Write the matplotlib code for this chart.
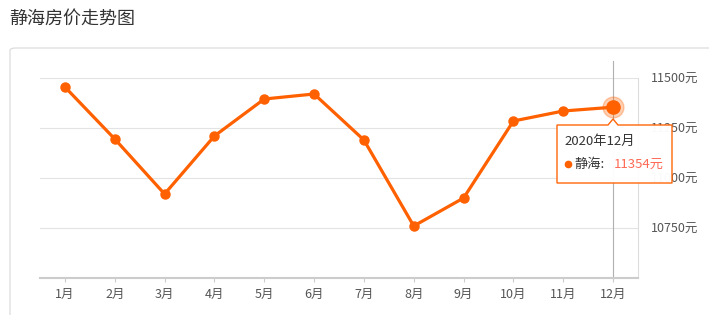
import matplotlib
matplotlib.use("Agg")
import matplotlib.pyplot as plt
from matplotlib.patches import FancyBboxPatch, Polygon
from matplotlib.lines import Line2D

plt.rcParams['font.family'] = ['Noto Sans CJK SC', 'DejaVu Sans']

# data
months = ['1月', '2月', '3月', '4月', '5月', '6月', '7月', '8月', '9月', '10月', '11月', '12月']
prices = [11455, 11195, 10920, 11210, 11395, 11420, 11190, 10760, 10900, 11285, 11335, 11354]
yticks = [10750, 11000, 11250, 11500]
title = '静海房价走势图'
area = '静海'
tip_month = '2020年12月'

orange = '#ff6000'
W, H = 709, 315


def fx(px):
    return px / W


def fy(py):
    return 1 - py / H


fig = plt.figure(figsize=(W / 100, H / 100), dpi=100)

# title and panel frame
fig.text(fx(9), fy(19), title, fontsize=13, color='#333333', va='center', ha='left')
panel = FancyBboxPatch((fx(10), fy(330)), fx(720) - fx(10), fy(48) - fy(330),
                       boxstyle='round,pad=0,rounding_size=0.008',
                       transform=fig.transFigure, fc='white', ec='#dcdcdc', lw=0.9, zorder=-10)
fig.patches.append(panel)

ax = fig.add_axes([fx(40), fy(278), fx(638) - fx(40), fy(78) - fy(278)])
x = list(range(1, len(months) + 1))

for y in yticks:
    ax.axhline(y, color='#e3e3e3', lw=0.8, zorder=1)

ax.plot(x, prices, color=orange, lw=2.3, marker='o', ms=6.5, zorder=3)

# highlighted last point + axis pointer
ax.plot([x[-1], x[-1]], [10500, 11585], color='#b0b0b0', lw=0.8, clip_on=False, zorder=2)
ax.plot(x[-1], prices[-1], 'o', color=orange, ms=15, alpha=0.3, zorder=4, clip_on=False)
ax.plot(x[-1], prices[-1], 'o', color=orange, ms=9.5, zorder=5, clip_on=False)

ax.set_xlim(0.5, len(months) + 0.5)
ax.set_ylim(10500, 11500)
ax.set_xticks(x)
ax.set_xticklabels(months)
ax.set_yticks(yticks)
ax.set_yticklabels([f'{v}元' for v in yticks])
ax.yaxis.tick_right()
ax.tick_params(axis='y', length=0, pad=9, labelsize=9, labelcolor='#555555')
ax.tick_params(axis='x', length=3, color='#cccccc', pad=4, labelsize=9, labelcolor='#555555')

for s in ['left', 'top']:
    ax.spines[s].set_visible(False)
ax.spines['bottom'].set_color('#cccccc')
ax.spines['bottom'].set_linewidth(1.5)
ax.spines['right'].set_color('#dddddd')
ax.spines['right'].set_linewidth(0.8)
ax.set_facecolor('none')

# tooltip
pts = [(557, 125), (608, 125), (613, 119), (618, 125), (672, 125), (672, 183), (557, 183)]
tip = Polygon([(fx(a), fy(b)) for a, b in pts], closed=True, transform=fig.transFigure,
              fc='white', ec=orange, lw=1.0, alpha=0.97, zorder=10)
fig.patches.append(tip)
fig.text(fx(564), fy(141), tip_month, fontsize=9.5, color='#333333', va='center', zorder=11)
fig.lines.append(Line2D([fx(568)], [fy(164)], marker='o', ms=4.5, color=orange,
                        transform=fig.transFigure, zorder=11))
fig.text(fx(574), fy(164), area + ':', fontsize=9.5, color='#333333', va='center', zorder=11)
fig.text(fx(614), fy(164), f'{prices[-1]}元', fontsize=9.5, color='#ff6a55', va='center', zorder=11)

fig.savefig('out.png', dpi=100)
